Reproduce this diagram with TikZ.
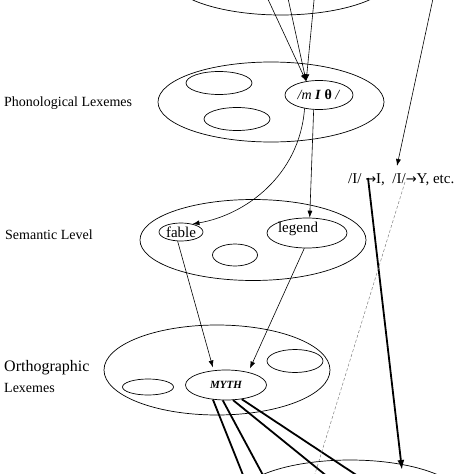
\documentclass[tikz,border=0pt]{standalone}
\usepackage{fontspec}
\setmainfont{Liberation Serif}
\newfontfamily\arrowfont{DejaVu Sans}
\usepackage{tikz}
\usetikzlibrary{shapes.geometric, calc, positioning}
\usetikzlibrary{arrows.meta}

\newcommand{\goesto}{{\arrowfont\fontsize{13}{15}\selectfont →}}

\tikzset{
  level/.style={draw, ellipse, line width=0.7pt, minimum width=226pt, minimum height=80pt, inner sep=0pt},
  word/.style={draw, ellipse, line width=0.7pt, inner sep=0pt},
  lab/.style={anchor=west, inner sep=0pt, font=\fontsize{14}{16}\selectfont},
  thin/.style={line width=0.6pt, -{Latex[length=7pt,width=5pt]}},
  heavy/.style={line width=1.8pt},
}

\begin{document}
\begin{tikzpicture}[x=1pt,y=1pt,yscale=-1,xscale=1]
		\useasboundingbox (0,0) rectangle (474,474);

		%Shape: Ellipse levels
		\node [level] (top) at (281,-25) {};
		\node [level] (phon) at (271,102) {};
		\node [level, minimum height=81pt] (sem) at (253,240) {};
		\node [level, minimum height=90pt] (orth) at (217,370) {};
		\node [level] (bot) at (350,500) {};

		%Shape: Ellipse words, phonological
		\node [word, minimum width=66pt, minimum height=23pt] (ph1) at (219,83) {};
		\node [word, minimum width=66pt, minimum height=23pt] (ph2) at (237,119) {};
		\node [word, minimum width=68pt, minimum height=29pt, font=\fontsize{14}{16}\selectfont] (mith) at (319,95) {\textit{/m} \textbf{\textit{I}} \textbf{θ} \textit{/}};
		%Shape: Ellipse words, semantic
		\node [word, minimum width=44pt, minimum height=18pt, font=\fontsize{15}{16}\selectfont] (fable) at (181,232) {fable};
		\node [word, minimum width=80pt, minimum height=30pt] (legend) at (307,233) {};
		\node [font=\fontsize{15}{16}\selectfont, inner sep=0pt] (legendtxt) at (298,229) {legend};
		\node [word, minimum width=45pt, minimum height=22pt] (sem3) at (235,255) {};
		%Shape: Ellipse words, orthographic
		\node [word, minimum width=81pt, minimum height=30pt, font=\fontsize{11}{12}\selectfont\bfseries\itshape] (myth) at (226,385) {MYTH};
		\node [word, minimum width=51pt, minimum height=16pt] (or1) at (148,387) {};
		\node [word, minimum width=56pt, minimum height=23pt] (or2) at (295,361) {};

		% Text Node
		\node [lab] (phonlab) at (4,103) {Phonological Lexemes};
		\node [lab] (semlab) at (5,235) {Semantic Level};
		\node [lab, font=\fontsize{16}{18}\selectfont] (orthlab) at (4,368) {Orthographic};
		\node [lab] (lexlab) at (4,388) {Lexemes};
		\node [lab, font=\fontsize{15}{17}\selectfont] (rule) at (348,180) {/I/ \goesto I,\ \ /I/\goesto Y, etc.};

		%Points inside the cut off ellipses
		\coordinate (t1) at (259,-20);
		\coordinate (t2) at (284,-20);
		\coordinate (t3) at (316,-20);
		\coordinate (t4) at (437,-20);
		\coordinate (b1) at (249,490);
		\coordinate (b2) at (271,490);
		\coordinate (b3) at (344,490);
		\coordinate (b4) at (379,490);
		\coordinate (b5) at (310,490);
		\coordinate (bin) at (402,470);

		%Straight Lines, top to phonological
		\draw [thin] (t1) -- (mith.133);
		\draw [thin] (t2) -- (mith.133);
		\draw [thin] (t3) -- (mith.133);
		\draw [thin] (t4) -- ($(rule.west)+(49,-14)$);

		%Curve Lines, phonological to semantic
		\draw [thin] (mith.223) .. controls +(-5,67) and +(53,-9) .. (fable.35);
		\draw [thin] (mith.250) -- (legend.80);

		%Straight Lines, semantic to orthographic
		\draw [thin, shorten >=3pt] (fable.250) -- (myth.130);
		\draw [thin, shorten >=4pt] (legend.260) -- (myth.30);

		%Straight Lines, orthographic to bottom
		\draw [heavy] (myth.228) -- (b1);
		\draw [heavy] (myth.258) -- (b2);
		\draw [heavy] (myth.295) -- (b3);
		\draw [heavy] (myth.318) -- (b4);
		\draw [heavy, -{Latex[length=10pt,width=7pt]}] ($(rule.west)+(20,-2)$) -- (bin);
		\draw [line width=0.5pt, gray, dash pattern=on 3pt off 2pt] ($(rule.west)+(57,2)$) -- (b5);

\end{tikzpicture}
\end{document}
